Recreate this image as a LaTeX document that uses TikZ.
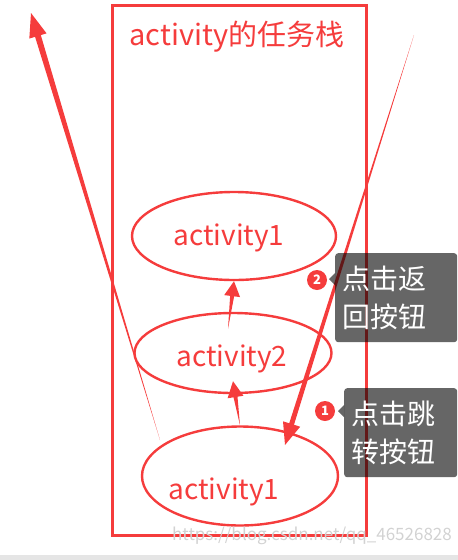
\documentclass[tikz,border=0pt]{standalone}
\usepackage{fontspec}
\setmainfont{Noto Sans CJK SC}
\usetikzlibrary{calc,shapes.geometric}
\definecolor{stackred}{RGB}{245,60,60}
\definecolor{tipgray}{RGB}{102,102,102}
% tapered arrow: (tail)(tip){head length}{head half width}{shaft half width}
\def\taper(#1)(#2)#3#4#5{\fill[stackred] (#1) -- ($($(#2)!#3!(#1)$)!#5!90:(#2)$) -- ($($(#2)!#3!(#1)$)!#4!90:(#2)$) -- (#2) -- ($($(#2)!#3!(#1)$)!#4!-90:(#2)$) -- ($($(#2)!#3!(#1)$)!#5!-90:(#2)$) -- cycle;}
\tikzset{
	stackitem/.style={ellipse, draw=stackred, line width=2.4pt, inner sep=0pt},
	itemtext/.style={text=stackred, font=\fontsize{28}{32}\selectfont, inner sep=0pt},
	tipbox/.style={fill=black, fill opacity=0.6, text opacity=1, text=white, rounded corners=3pt, anchor=north west, align=left, font=\fontsize{28}{38}\selectfont, inner sep=7pt},
	numdot/.style={circle, fill=stackred, text=white, minimum size=20pt, inner sep=0pt, font=\fontsize{13}{13}\selectfont\bfseries},
}

\begin{document}
\begin{tikzpicture}[x=1pt, y=-1pt]
				\useasboundingbox (0,0) rectangle (458,560);
				\fill[gray!20] (0,555) rectangle (458,560);
				
				% the task stack
				\draw[stackred, line width=3pt] (112,5) rectangle (366,535);
				\node[itemtext, font=\fontsize{29}{32}\selectfont] (title) at (237,37) {activity的任务栈};
				
				\node[stackitem, minimum width=204pt, minimum height=88pt] (e1) at (234,236) {};
				\node[itemtext] (t1) at (229,238) {activity1};
				
				\node[stackitem, minimum width=197pt, minimum height=80pt] (e2) at (233,353) {};
				\node[itemtext] (t2) at (232,359) {activity2};
				
				\node[stackitem, minimum width=196pt, minimum height=99pt] (e3) at (240,476) {};
				\node[itemtext] (t3) at (224,492) {activity1};
				
				% pushes between the activities
				\coordinate (a2) at ($(e2.north)+(-5,17)$);
				\coordinate (a3) at ($(e2.south)+(0,-13)$);
				\taper(a2)(e1.south){15pt}{8pt}{2pt}
				\taper(e3.north)(a3){16pt}{8pt}{2pt}
				
				% long arrows
				\coordinate (la) at (160,440);
				\coordinate (lb) at (31,13);
				\taper(la)(lb){24pt}{9pt}{3pt}
				\coordinate (ra) at (414,35);
				\coordinate (rb) at (285,445);
				\taper(ra)(rb){22pt}{9pt}{2.5pt}
				
				% callouts
				\node[tipbox, minimum width=122pt, minimum height=89pt, text width=108pt] (tip2) at (335,253) {点击返\\回按钮};
				\fill[black, opacity=0.6] (tip2.west |- 0,273) -- (329,279) -- (tip2.west |- 0,285) -- cycle;
				\node[numdot] (n2) at (317,280) {2};
				
				\node[tipbox, minimum width=113pt, minimum height=89pt, text width=99pt] (tip1) at (344,388) {点击跳\\转按钮};
				\fill[black, opacity=0.6] (tip1.west |- 0,405) -- (338,411) -- (tip1.west |- 0,417) -- cycle;
				\node[numdot] (n1) at (325,411) {1};
				
				\node[text=gray!35, font=\fontsize{17}{17}\selectfont, anchor=east, inner sep=0pt] (mark) at (452,536) {https://blog.csdn.net/qq\_46526828};
			\end{tikzpicture}
\end{document}
